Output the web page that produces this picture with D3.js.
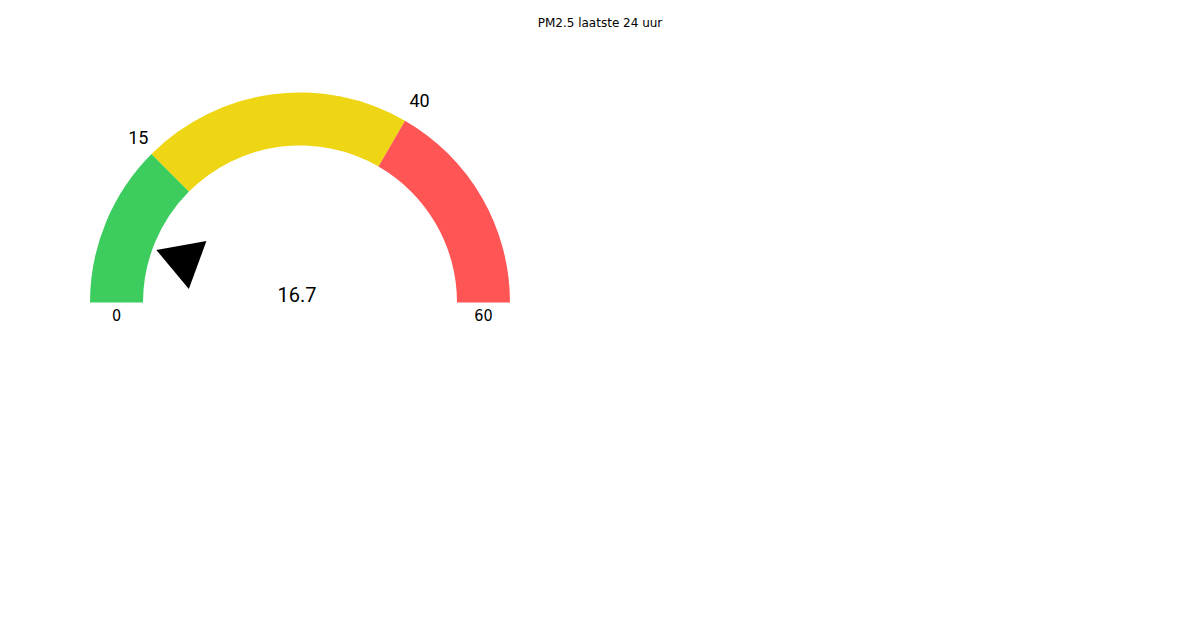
<!DOCTYPE html>
<html>
<head>
<meta charset="utf-8">
<script src="https://cdn.jsdelivr.net/npm/d3@7"></script>
<style>
  html, body { margin: 0; padding: 0; background: #fff; }
  svg { display: block; }
</style>
</head>
<body>
<svg id="chart" width="1200" height="630"></svg>
<script>
// ---- data ----
const title = "PM2.5 laatste 24 uur";
const value = 16.7;
const rangeMin = 0;
const rangeMax = 60;
const bandStarts = [0, 15, 40];
const bandEnds = [15, 40, 60];
const bandColors = ["#3dcd5e", "#eed614", "#ff5555"];
const thresholdLabels = [15, 40];
const endLabels = [0, 60];

// ---- layout ----
const W = 1200, H = 630;
const cx = 300, cy = 302.5;
const outerR = 210, innerR = 157;

const svg = d3.select("#chart");

svg.append("text")
  .attr("x", W / 2).attr("y", 23)
  .attr("text-anchor", "middle").attr("dominant-baseline", "middle")
  .style("font-family", "DejaVu Sans, sans-serif").style("font-size", "12px")
  .attr("fill", "#000")
  .text(title);

// angle scale: value -> radians (d3.arc convention: 0 = up, clockwise)
const angle = d3.scaleLinear().domain([rangeMin, rangeMax]).range([-Math.PI / 2, Math.PI / 2]);

const g = svg.append("g").attr("transform", `translate(${cx},${cy})`);

const arc = d3.arc().innerRadius(innerR).outerRadius(outerR);
const bands = bandStarts.map((s, i) => ({ s, e: bandEnds[i], c: bandColors[i] }));

g.selectAll("path.band").data(bands).enter().append("path")
  .attr("class", "band")
  .attr("d", d => arc({ startAngle: angle(d.s), endAngle: angle(d.e) }))
  .attr("fill", d => d.c);

// polar helper (d3 convention)
const pt = (a, r) => [r * Math.sin(a), -r * Math.cos(a)];

// threshold labels
const labelR = 233;
g.selectAll("text.thr").data(thresholdLabels).enter().append("text")
  .attr("class", "thr")
  .attr("x", d => pt(angle(d), labelR)[0] + 3)
  .attr("y", d => pt(angle(d), labelR)[1])
  .attr("text-anchor", "middle").attr("dominant-baseline", "central")
  .style("font-family", "Roboto, sans-serif").style("font-size", "18px")
  .attr("fill", "#000")
  .text(d => d);

// end labels (min / max) centered under band
g.selectAll("text.end").data(endLabels).enter().append("text")
  .attr("class", "end")
  .attr("x", d => pt(angle(d), (innerR + outerR) / 2)[0])
  .attr("y", 12.5)
  .attr("text-anchor", "middle").attr("dominant-baseline", "central")
  .style("font-family", "'Liberation Sans Narrow', 'DejaVu Sans Condensed', sans-serif").style("font-size", "16px")
  .attr("fill", "#000")
  .text(d => d);

// needle (triangle pointer) — drawn with a rotation offset as in the reference
const needleOffset = -Math.PI / 6;
const na = angle(value) + needleOffset;
const tipR = 153, baseR = 109, halfW = 25.6;
const tip = pt(na, tipR);
const bc = pt(na, baseR);
const perp = [Math.cos(na), Math.sin(na)];
const b1 = [bc[0] + perp[0] * halfW, bc[1] + perp[1] * halfW];
const b2 = [bc[0] - perp[0] * halfW, bc[1] - perp[1] * halfW];
g.append("path")
  .attr("d", d3.line()([tip, b1, b2]) + "Z")
  .attr("fill", "#000");

// value text
g.append("text")
  .attr("x", -3).attr("y", -7.5)
  .attr("text-anchor", "middle").attr("dominant-baseline", "central")
  .style("font-family", "Roboto, sans-serif").style("font-size", "20px")
  .attr("fill", "#000")
  .text(value);
</script>
</body>
</html>
